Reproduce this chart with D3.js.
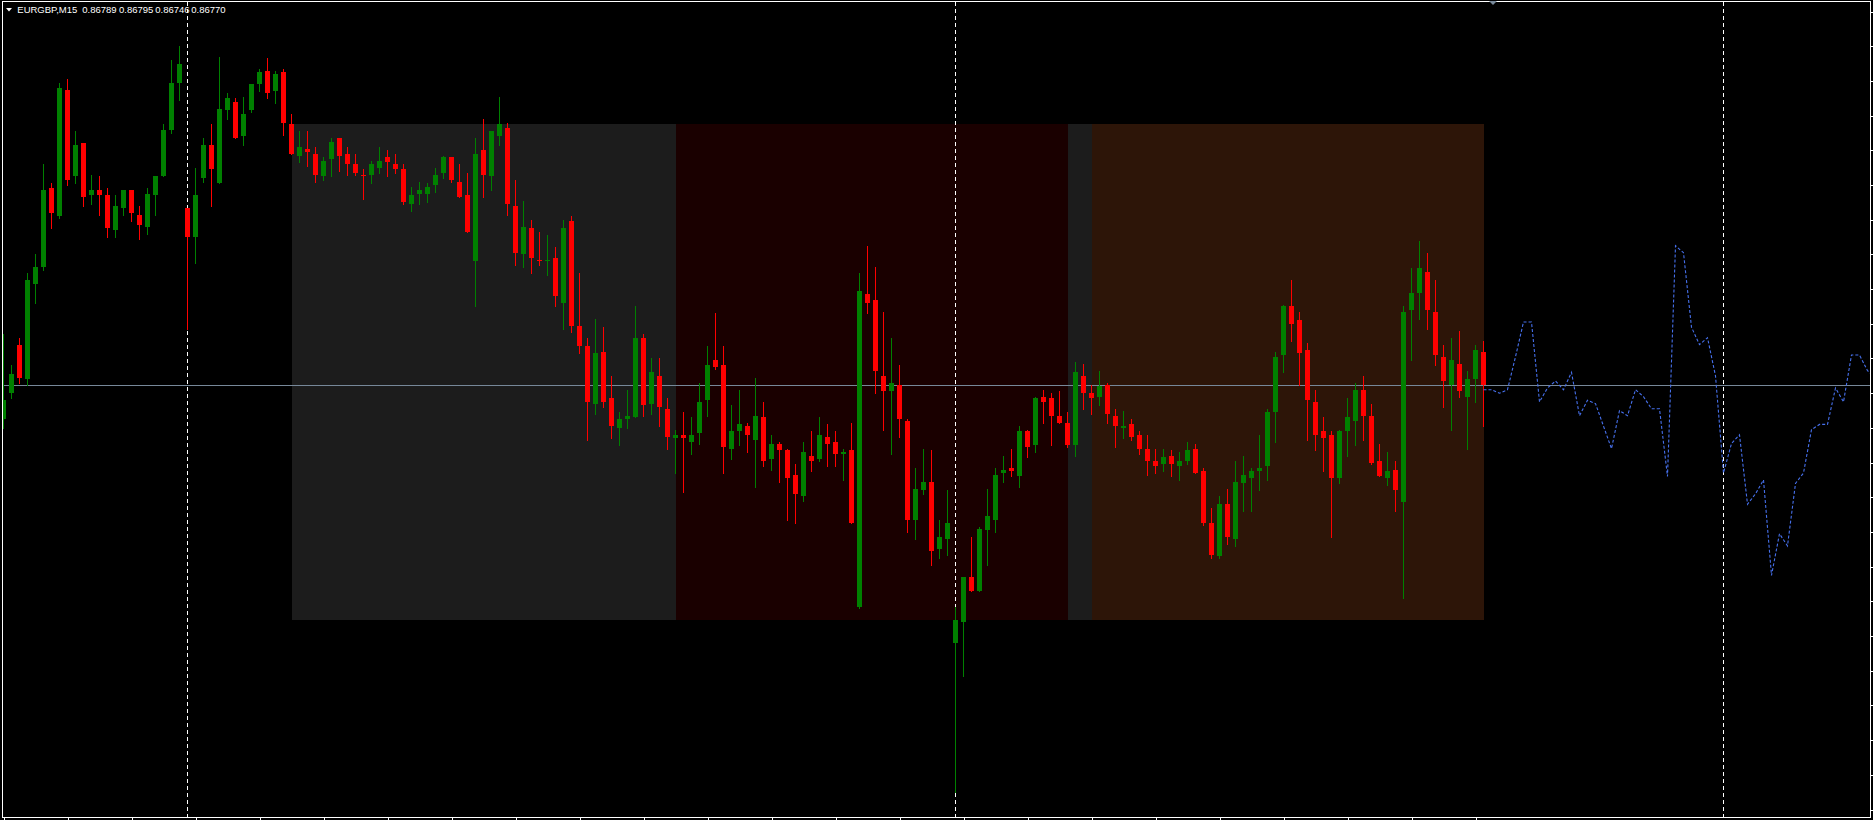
<!DOCTYPE html>
<html><head><meta charset="utf-8">
<script src="https://cdn.jsdelivr.net/npm/d3@7"></script>
<style>html,body{margin:0;padding:0;background:#000;overflow:hidden}</style>
</head><body><svg id="c" width="1873" height="820"></svg>
<script>
const symbolLabel = "EURGBP,M15";
const headerValues = ["0.86789","0.86795","0.86746","0.86770"];

const openP = [0.86750,0.86765,0.86793,0.86773,0.86828,0.86838,0.86883,0.86867,0.86940,0.86890,
0.86909,0.86879,0.86882,0.86879,0.86859,0.86872,0.86882,0.86868,0.86861,0.86879,
0.86890,0.86917,0.86944,0.86872,0.86855,0.86889,0.86908,0.86886,0.86928,0.86933,
0.86913,0.86928,0.86943,0.86951,0.86939,0.86950,0.86920,0.86902,0.86906,0.86903,
0.86890,0.86900,0.86912,0.86903,0.86897,0.86891,0.86891,0.86895,0.86901,0.86897,
0.86894,0.86874,0.86880,0.86880,0.86885,0.86892,0.86901,0.86887,0.86879,0.86841,
0.86905,0.86890,0.86913,0.86918,0.86873,0.86845,0.86860,0.86842,0.86841,0.86843,
0.86817,0.86864,0.86804,0.86792,0.86759,0.86789,0.86762,0.86745,0.86750,0.86751,
0.86797,0.86759,0.86775,0.86756,0.86739,0.86741,0.86737,0.86742,0.86761,0.86784,
0.86781,0.86733,0.86743,0.86746,0.86738,0.86751,0.86727,0.86736,0.86732,0.86718,
0.86706,0.86729,0.86727,0.86740,0.86737,0.86730,0.86732,0.86642,0.86822,0.86819,
0.86775,0.86766,0.86770,0.86749,0.86692,0.86709,0.86714,0.86675,0.86681,0.86621,
0.86633,0.86659,0.86651,0.86686,0.86692,0.86719,0.86722,0.86717,0.86743,0.86735,
0.86763,0.86762,0.86752,0.86748,0.86735,0.86775,0.86765,0.86763,0.86770,0.86752,
0.86745,0.86747,0.86741,0.86733,0.86726,0.86724,0.86729,0.86723,0.86726,0.86733,
0.86720,0.86690,0.86671,0.86701,0.86681,0.86713,0.86716,0.86720,0.86723,0.86754,
0.86787,0.86815,0.86807,0.86790,0.86760,0.86743,0.86741,0.86716,0.86743,0.86749,
0.86767,0.86752,0.86726,0.86716,0.86721,0.86702,0.86813,0.86823,0.86835,0.86812,
0.86786,0.86770,0.86782,0.86763,0.86773,0.86789];

const highP = [0.86799,0.86781,0.86797,0.86834,0.86845,0.86897,0.86886,0.86944,0.86946,0.86916,
0.86909,0.86891,0.86890,0.86883,0.86879,0.86882,0.86882,0.86873,0.86883,0.86890,
0.86920,0.86957,0.86965,0.86872,0.86895,0.86912,0.86920,0.86959,0.86938,0.86935,
0.86936,0.86943,0.86952,0.86958,0.86951,0.86952,0.86926,0.86916,0.86916,0.86907,
0.86901,0.86912,0.86912,0.86907,0.86903,0.86894,0.86899,0.86907,0.86905,0.86903,
0.86897,0.86884,0.86887,0.86886,0.86895,0.86902,0.86901,0.86897,0.86892,0.86912,
0.86923,0.86916,0.86936,0.86921,0.86888,0.86876,0.86865,0.86858,0.86856,0.86849,
0.86865,0.86867,0.86834,0.86797,0.86808,0.86803,0.86775,0.86754,0.86767,0.86815,
0.86799,0.86785,0.86785,0.86762,0.86744,0.86754,0.86751,0.86771,0.86792,0.86811,
0.86792,0.86758,0.86767,0.86748,0.86774,0.86760,0.86741,0.86737,0.86733,0.86724,
0.86737,0.86743,0.86751,0.86747,0.86743,0.86733,0.86748,0.86834,0.86850,0.86838,
0.86812,0.86797,0.86781,0.86750,0.86722,0.86733,0.86732,0.86692,0.86709,0.86642,
0.86659,0.86682,0.86688,0.86710,0.86722,0.86729,0.86733,0.86746,0.86744,0.86763,
0.86767,0.86765,0.86766,0.86754,0.86783,0.86782,0.86770,0.86778,0.86771,0.86756,
0.86755,0.86750,0.86743,0.86741,0.86733,0.86733,0.86732,0.86731,0.86737,0.86736,
0.86722,0.86699,0.86706,0.86710,0.86726,0.86729,0.86722,0.86741,0.86756,0.86789,
0.86816,0.86830,0.86812,0.86794,0.86767,0.86751,0.86743,0.86744,0.86762,0.86771,
0.86775,0.86759,0.86736,0.86731,0.86726,0.86815,0.86837,0.86853,0.86846,0.86830,
0.86793,0.86797,0.86801,0.86778,0.86793,0.86795];

const lowP = [0.86745,0.86762,0.86771,0.86770,0.86817,0.86836,0.86860,0.86866,0.86885,0.86886,
0.86873,0.86874,0.86868,0.86855,0.86855,0.86868,0.86864,0.86854,0.86857,0.86868,
0.86890,0.86915,0.86934,0.86802,0.86840,0.86887,0.86873,0.86886,0.86923,0.86912,
0.86908,0.86927,0.86939,0.86935,0.86932,0.86914,0.86903,0.86898,0.86896,0.86887,
0.86888,0.86890,0.86893,0.86891,0.86891,0.86877,0.86886,0.86892,0.86890,0.86892,
0.86874,0.86870,0.86874,0.86875,0.86881,0.86889,0.86887,0.86878,0.86858,0.86815,
0.86878,0.86882,0.86908,0.86868,0.86839,0.86838,0.86834,0.86839,0.86833,0.86815,
0.86802,0.86800,0.86788,0.86738,0.86753,0.86757,0.86739,0.86735,0.86745,0.86751,
0.86752,0.86753,0.86746,0.86733,0.86719,0.86708,0.86730,0.86736,0.86752,0.86779,
0.86719,0.86727,0.86735,0.86731,0.86711,0.86723,0.86721,0.86714,0.86692,0.86690,
0.86703,0.86720,0.86726,0.86723,0.86723,0.86715,0.86690,0.86641,0.86811,0.86765,
0.86744,0.86730,0.86740,0.86685,0.86681,0.86707,0.86666,0.86670,0.86672,0.86535,
0.86602,0.86651,0.86651,0.86666,0.86685,0.86714,0.86717,0.86711,0.86728,0.86731,
0.86748,0.86735,0.86748,0.86734,0.86729,0.86756,0.86753,0.86758,0.86748,0.86734,
0.86739,0.86738,0.86730,0.86718,0.86719,0.86720,0.86717,0.86715,0.86724,0.86719,
0.86689,0.86670,0.86670,0.86678,0.86677,0.86697,0.86697,0.86709,0.86715,0.86737,
0.86777,0.86795,0.86770,0.86738,0.86732,0.86720,0.86682,0.86713,0.86729,0.86735,
0.86738,0.86724,0.86717,0.86712,0.86697,0.86647,0.86784,0.86808,0.86802,0.86781,
0.86757,0.86744,0.86763,0.86733,0.86760,0.86746];

const closeP = [0.86761,0.86776,0.86774,0.86830,0.86838,0.86882,0.86869,0.86941,0.86888,0.86908,
0.86878,0.86882,0.86879,0.86860,0.86873,0.86882,0.86869,0.86862,0.86880,0.86890,
0.86917,0.86944,0.86955,0.86855,0.86879,0.86908,0.86894,0.86929,0.86935,0.86912,
0.86926,0.86943,0.86950,0.86938,0.86949,0.86921,0.86903,0.86907,0.86904,0.86891,
0.86899,0.86910,0.86902,0.86897,0.86892,0.86890,0.86897,0.86899,0.86898,0.86894,
0.86875,0.86879,0.86882,0.86884,0.86891,0.86901,0.86888,0.86878,0.86858,0.86903,
0.86891,0.86916,0.86920,0.86874,0.86846,0.86861,0.86843,0.86841,0.86842,0.86821,
0.86860,0.86804,0.86792,0.86760,0.86788,0.86760,0.86746,0.86750,0.86752,0.86797,
0.86758,0.86777,0.86757,0.86740,0.86741,0.86739,0.86741,0.86760,0.86781,0.86780,
0.86734,0.86743,0.86747,0.86741,0.86752,0.86726,0.86736,0.86732,0.86716,0.86707,
0.86731,0.86726,0.86741,0.86736,0.86730,0.86731,0.86690,0.86824,0.86817,0.86778,
0.86766,0.86771,0.86750,0.86692,0.86710,0.86714,0.86674,0.86682,0.86690,0.86634,
0.86659,0.86651,0.86687,0.86694,0.86718,0.86721,0.86720,0.86743,0.86734,0.86762,
0.86760,0.86752,0.86748,0.86735,0.86777,0.86765,0.86762,0.86769,0.86753,0.86746,
0.86746,0.86740,0.86733,0.86726,0.86723,0.86728,0.86724,0.86726,0.86732,0.86719,
0.86690,0.86672,0.86701,0.86682,0.86714,0.86718,0.86720,0.86722,0.86754,0.86786,
0.86815,0.86805,0.86788,0.86761,0.86741,0.86739,0.86716,0.86743,0.86751,0.86767,
0.86752,0.86725,0.86717,0.86720,0.86709,0.86812,0.86823,0.86837,0.86813,0.86787,
0.86772,0.86784,0.86766,0.86773,0.86790,0.86770];

const forecastStart = 185;
const forecastP = [0.86767,0.86767,0.86765,0.86767,0.86786,0.86806,0.86806,0.86760,0.86768,0.86772,
0.86767,0.86777,0.86752,0.86761,0.86759,0.86746,0.86733,0.86755,0.86752,0.86767,
0.86763,0.86756,0.86756,0.86717,0.86850,0.86846,0.86803,0.86793,0.86797,0.86775,
0.86719,0.86736,0.86741,0.86701,0.86707,0.86715,0.86660,0.86684,0.86677,0.86713,
0.86719,0.86744,0.86747,0.86747,0.86768,0.86760,0.86787,0.86787,0.86778,0.86774];

const separatorIdx = [23, 119, 215];
const zoneFrom = [36, 84, 136];
const zoneTo = [136, 133, 185];
const zoneHigh = [0.86920, 0.86920, 0.86920];
const zoneLow = [0.86634, 0.86634, 0.86634];
const zoneColor = ["#1c1c1c", "#1a0000", "#2d1508"];
const bidPrice = 0.86770;
const priceTicks = [0.86525,0.86545,0.86565,0.86585,0.86605,0.86625,0.86645,0.86665,0.86685,0.86705,
0.86725,0.86745,0.86765,0.86785,0.86805,0.86825,0.86845,0.86865,0.86885,0.86905,0.86925,0.86945,0.86965,0.86985];
const timeTickIdx = [0,8,16,24,32,40,48,56,64,72,80,88,96,104,112,120,128,136,144,152,160,168,176,184];

const W = 1873, H = 820;
const L = 2, T = 2, R = 1870, B = 817;
const svg = d3.select("#c");
svg.append("rect").attr("width", W).attr("height", H).attr("fill", "#000");

const x = d3.scaleLinear().domain([0, 1]).range([3.5, 11.5]);
const y = d3.scaleLinear().domain([0.865207, 0.869905]).range([B, T]);

svg.append("clipPath").attr("id", "clip").append("rect")
  .attr("x", L).attr("y", T).attr("width", R - L).attr("height", B - T);
const g = svg.append("g").attr("clip-path", "url(#clip)").attr("shape-rendering", "crispEdges");

// zones
zoneFrom.forEach((f, i) => {
  g.append("rect")
    .attr("x", x(f)).attr("width", x(zoneTo[i]) - x(f))
    .attr("y", y(zoneHigh[i])).attr("height", y(zoneLow[i]) - y(zoneHigh[i]))
    .attr("fill", zoneColor[i]);
});

// separators (behind candles)
g.selectAll("line.sep").data(separatorIdx).enter().append("line").attr("class", "sep")
  .attr("x1", d => x(d)).attr("x2", d => x(d)).attr("y1", T).attr("y2", B)
  .attr("stroke", "#fff").attr("stroke-width", 1).attr("stroke-dasharray", "4,3");

// bid line
g.append("line").attr("x1", L).attr("x2", R)
  .attr("y1", Math.round(y(bidPrice)) + 0.5).attr("y2", Math.round(y(bidPrice)) + 0.5)
  .attr("stroke", "#778899").attr("stroke-width", 1);

const idx = d3.range(openP.length);
const col = i => closeP[i] >= openP[i] ? "#008000" : "#ff0000";

// wicks
g.selectAll("line.wick").data(idx).enter().append("line").attr("class", "wick")
  .attr("x1", i => x(i)).attr("x2", i => x(i))
  .attr("y1", i => Math.round(y(highP[i]))).attr("y2", i => Math.round(y(lowP[i])) + 1)
  .attr("stroke", col).attr("stroke-width", 1);

// bodies
g.selectAll("rect.body").data(idx).enter().append("rect").attr("class", "body")
  .attr("x", i => x(i) - 2.5).attr("width", 5)
  .attr("y", i => Math.round(y(Math.max(openP[i], closeP[i]))))
  .attr("height", i => Math.max(1, Math.round(y(Math.min(openP[i], closeP[i]))) - Math.round(y(Math.max(openP[i], closeP[i])))))
  .attr("fill", col);

// forecast
const line = d3.line().x((d, j) => x(forecastStart + j)).y(d => y(d));
svg.append("g").attr("clip-path", "url(#clip)").append("path").datum(forecastP)
  .attr("d", line).attr("fill", "none").attr("stroke", "#4670ec")
  .attr("stroke-width", 1.1).attr("stroke-dasharray", "3,2");

// frame
svg.append("rect").attr("x", L + 0.5).attr("y", T - 0.5).attr("width", R - L).attr("height", B - T + 1)
  .attr("fill", "none").attr("stroke", "#fff").attr("stroke-width", 1).attr("shape-rendering", "crispEdges");

// axes (labels hidden as in the reference)
const yAxis = d3.axisRight(y).tickValues(priceTicks).tickSize(3).tickFormat("");
svg.append("g").attr("transform", `translate(${R + 0.5},0)`).call(yAxis)
  .call(a => a.select(".domain").remove())
  .selectAll("line").attr("stroke", "#fff").attr("shape-rendering", "crispEdges");
const xAxis = d3.axisBottom(x).tickValues(timeTickIdx).tickSize(3).tickFormat("");
svg.append("g").attr("transform", `translate(0,${B + 0.5})`).call(xAxis)
  .call(a => a.select(".domain").remove())
  .selectAll("line").attr("stroke", "#fff").attr("shape-rendering", "crispEdges");

// shift marker
svg.append("path").attr("d", "M1489,1 L1497,1 L1493,5 Z").attr("fill", "#778899");

// header
svg.append("path").attr("d", "M6,8 L12,8 L9,11.5 Z").attr("fill", "#fff");
const hdr = svg.append("g").attr("font-family", "'Liberation Sans', Arial, sans-serif")
  .attr("font-size", "9.5px").attr("fill", "#fff");
hdr.append("text").attr("x", 17.3).attr("y", 13).text(symbolLabel);
const hx = [82.3, 119, 155.3, 191.3];
headerValues.forEach((v, i) => hdr.append("text").attr("x", hx[i]).attr("y", 13).text(v));
</script></body></html>
